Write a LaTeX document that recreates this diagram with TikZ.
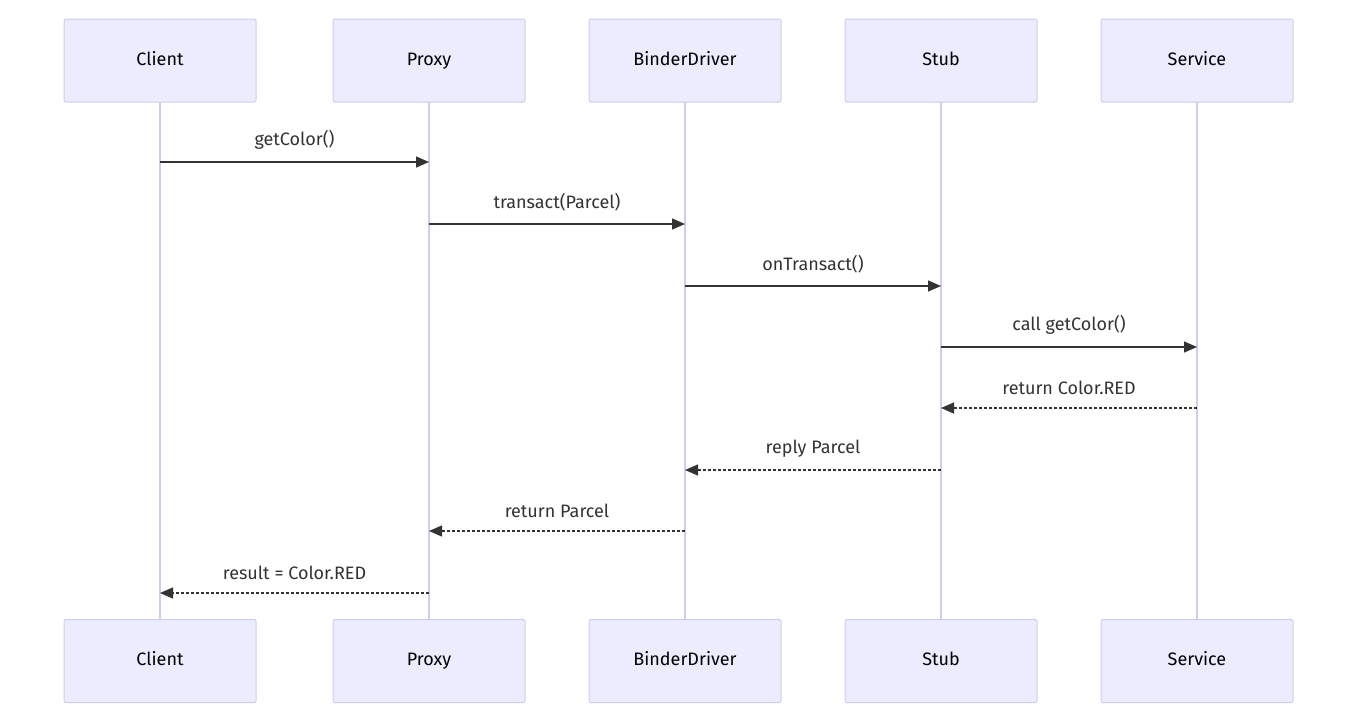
\documentclass[tikz,border=0pt]{standalone}
\usepackage{fontspec}
\setmainfont{Fira Sans}
\usetikzlibrary{arrows.meta}
\definecolor{boxfill}{HTML}{ECECFF}
\definecolor{boxline}{HTML}{CFCBF2}
\definecolor{msgline}{HTML}{333333}
\begin{document}
\begin{tikzpicture}[
    x=1pt, y=-1pt,
    font=\fontsize{18}{21}\selectfont,
    actor/.style={draw=boxline, fill=boxfill, line width=1pt, rounded corners=2pt,
        minimum width=192pt, minimum height=83pt, inner sep=0pt,
        text height=13pt, text depth=4pt},
    lifeline/.style={draw=boxline, line width=2pt},
    call/.style={draw=msgline, line width=1.3pt, -{Triangle[length=13pt,width=11pt]}},
    reply/.style={call, dash pattern=on 3pt off 2pt},
    msg/.style={text=msgline, above=9pt}
]
    \useasboundingbox (0,0) rectangle (1358,721);

    % Lifelines
    \foreach \name/\x in {Client/160, Proxy/429, BinderDriver/685, Stub/941, Service/1197} {
        \draw[lifeline] (\x,101) -- (\x,619);
        \node[actor] (top\name) at (\x,60.5) {\name};
        \node[actor] (bot\name) at (\x,661) {\name};
    }

    % Message anchors
    \foreach \y in {162,224,286,347,408,470,531,593} {
        \foreach \name/\x in {Client/160, Proxy/429, BinderDriver/685, Stub/941, Service/1197}
            \coordinate (\name\y) at (\x,\y);
    }

    % Calls
    \draw[call] (Client162) -- (Proxy162) node[midway, msg] {getColor()};
    \draw[call] (Proxy224) -- (BinderDriver224) node[midway, msg] {transact(Parcel)};
    \draw[call] (BinderDriver286) -- (Stub286) node[midway, msg] {onTransact()};
    \draw[call] (Stub347) -- (Service347) node[midway, msg] {call getColor()};

    % Replies
    \draw[reply] (Service408) -- (Stub408) node[midway, msg] {return Color.RED};
    \draw[reply] (Stub470) -- (BinderDriver470) node[midway, msg] {reply Parcel};
    \draw[reply] (BinderDriver531) -- (Proxy531) node[midway, msg] {return Parcel};
    \draw[reply] (Proxy593) -- (Client593) node[midway, msg] {result = Color.RED};
\end{tikzpicture}
\end{document}
